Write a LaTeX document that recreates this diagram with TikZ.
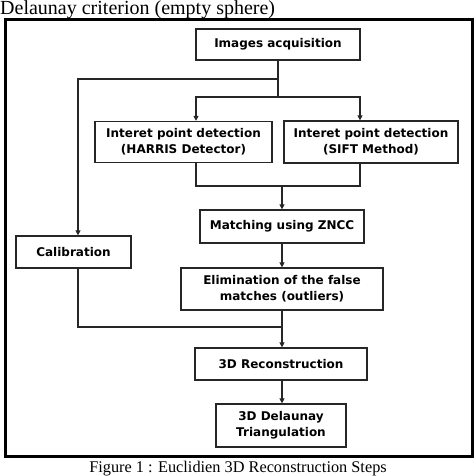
\documentclass[tikz,border=0pt]{standalone}
\usepackage{fontspec}
\setmainfont{Liberation Serif}
\newfontfamily\boxfont{DejaVu Sans}
\usetikzlibrary{arrows.meta}
\begin{document}
\begin{tikzpicture}[x=1pt,y=-1pt,
  box/.style={draw=black!85,line width=1.3pt,inner sep=0pt,align=center,
    font=\boxfont\bfseries\fontsize{12}{16}\selectfont},
  conn/.style={line width=1.3pt,draw=black!85},
  arr/.style={conn,-{Triangle[length=5pt,width=5pt]}}]
\useasboundingbox (0,0) rectangle (474,476);
\node[anchor=base west,inner sep=0pt,font=\fontsize{20}{24}\selectfont] (title) at (0,15) {Delaunay criterion (empty sphere)};
\draw[line width=3pt] (5,20) rectangle (472,456);
\node[box,minimum width=164pt,minimum height=31pt] (acq) at (278,44.5) {Images acquisition};
\node[box,minimum width=177pt,minimum height=41pt] (harris) at (183.5,142) {Interet point detection\\(HARRIS Detector)};
\node[box,minimum width=174pt,minimum height=42pt] (sift) at (371,142) {Interet point detection\\(SIFT Method)};
\node[box,minimum width=164pt,minimum height=33pt] (match) at (282,226.5) {Matching using ZNCC};
\node[box,minimum width=202pt,minimum height=42pt] (elim) at (282,289) {Elimination of the false\\matches (outliers)};
\node[box,minimum width=115pt,minimum height=32pt] (calib) at (73.5,252) {Calibration};
\node[box,minimum width=172pt,minimum height=32pt] (recon) at (281,364) {3D Reconstruction};
\node[box,minimum width=130pt,minimum height=43pt] (delau) at (281,425.5) {3D Delaunay\\Triangulation};
\node[anchor=base,inner sep=0pt,font=\fontsize{16.3}{19}\selectfont] (cap) at (238,472) {Figure 1 : Euclidien 3D Reconstruction Steps};
% connectors
\coordinate (j1) at (278,79);
\coordinate (j2) at (278,97);
\coordinate (j3) at (282,186);
\coordinate (j4) at (282,327);
\draw[conn] (acq.south) -- (j2);
\draw[arr] (j1) -| (calib.north -| 78,0);
\draw[arr] (j2) -| (harris.north -| 196,0);
\draw[arr] (j2) -| (sift.north -| 360,0);
\draw[conn] (harris.south -| 196,0) |- (j3) -| (sift.south -| 360,0);
\draw[arr] (j3) -- (match.north);
\draw[arr] (match.south) -- (elim.north);
\draw[conn] (calib.south -| 78,0) |- (j4);
\draw[arr] (elim.south -| 282,0) -- (recon.north -| 282,0);
\draw[arr] (recon.south -| 282,0) -- (delau.north -| 282,0);
\end{tikzpicture}
\end{document}
